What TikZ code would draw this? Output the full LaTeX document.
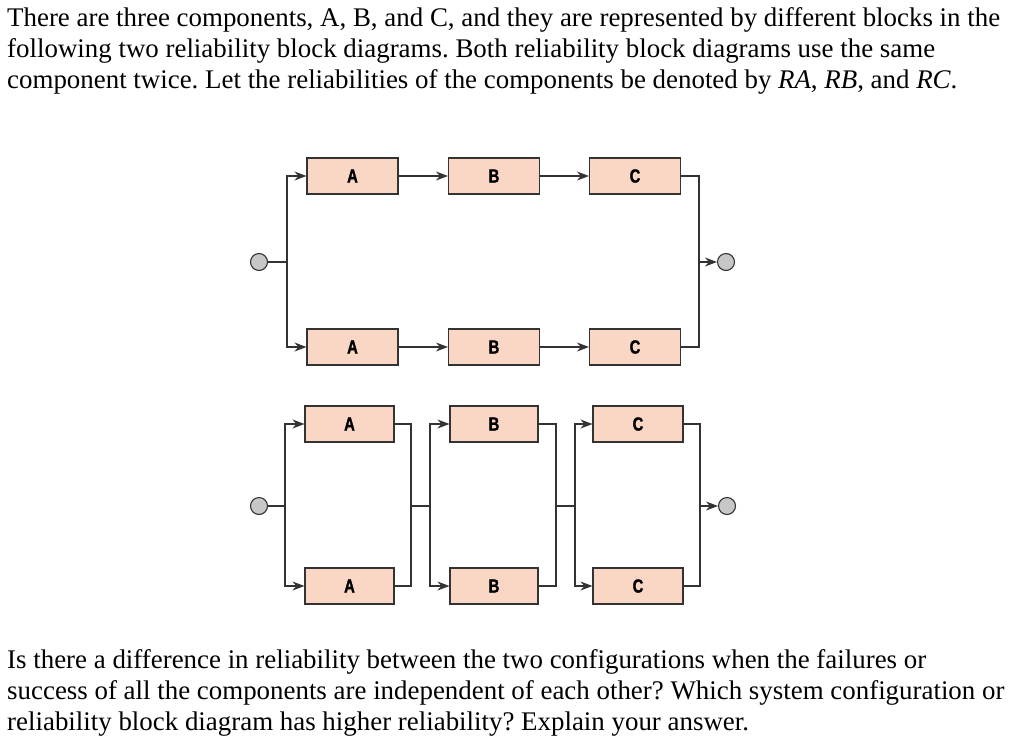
\documentclass[tikz,border=0pt]{standalone}
\usepackage{fontspec}
\setmainfont{Liberation Serif}
\newfontfamily\blkfont[FakeStretch=0.78,FakeBold=1.5]{Liberation Sans Bold}
\usetikzlibrary{arrows.meta}
\frenchspacing
\begin{document}
\begin{tikzpicture}[x=1pt,y=-1pt,
  blk/.style={draw=black!80,fill={rgb,255:red,249;green,215;blue,196},line width=1.1pt,minimum width=91pt,minimum height=36pt,inner sep=0pt,font=\blkfont\fontsize{19}{19}\selectfont},
  term/.style={circle,draw=black!80,fill=black!22,line width=1.1pt,minimum size=17pt,inner sep=0pt},
  ln/.style={draw=black!80,line width=1.1pt},
  ar/.style={ln,-{Stealth[length=12pt,width=9pt]}},
  txt/.style={anchor=base west,inner sep=0pt,font=\fontsize{26.9}{31}\selectfont}]
\useasboundingbox (0,0) rectangle (1024,753);
\node[txt] (t1) at (7,26) {There are three components, A, B, and C, and they are represented by different blocks in the};
\node[txt] (t2) at (7,57) {following two reliability block diagrams. Both reliability block diagrams use the same};
\node[txt] (t3) at (7,88) {component twice. Let the reliabilities of the components be denoted by \textit{RA}, \textit{RB}, and \textit{RC}.};
\node[txt] (b1) at (7,668) {Is there a difference in reliability between the two configurations when the failures or};
\node[txt] (b2) at (7,699) {success of all the components are independent of each other? Which system configuration or};
\node[txt] (b3) at (7,730) {reliability block diagram has higher reliability? Explain your answer.};
% diagram 1
\node[blk] (a1) at (352.5,176) {A};
\node[blk] (b1n) at (494,176) {B};
\node[blk] (c1) at (635,176) {C};
\node[blk] (a2) at (352.5,347) {A};
\node[blk] (b2n) at (494,347) {B};
\node[blk] (c2) at (635,347) {C};
\node[term] (s1) at (259,262) {};
\node[term] (e1) at (726,262) {};
\coordinate (j1) at (287,262);
\coordinate (k1) at (699,262);
\draw[ln] (s1) -- (j1);
\draw[ar] (j1) |- (a1);
\draw[ar] (j1) |- (a2);
\draw[ar] (a1) -- (b1n); \draw[ar] (b1n) -- (c1);
\draw[ar] (a2) -- (b2n); \draw[ar] (b2n) -- (c2);
\draw[ln] (c1.east) -| (k1) |- (c2.east);
\draw[ar] (k1) -- (e1);
% diagram 2
\node[blk,minimum width=89pt] (pa1) at (349.5,424) {A};
\node[blk,minimum width=89pt] (pa2) at (349.5,586) {A};
\node[blk,minimum width=88pt] (pb1) at (494,424) {B};
\node[blk,minimum width=88pt] (pb2) at (494,586) {B};
\node[blk,minimum width=90pt] (pc1) at (638,424) {C};
\node[blk,minimum width=90pt] (pc2) at (638,586) {C};
\node[term] (s2) at (259,506) {};
\node[term] (e2) at (727,506) {};
\coordinate (j2) at (285,506);
\coordinate (m1) at (411,506);
\coordinate (n1) at (430,506);
\coordinate (m2) at (556,506);
\coordinate (n2) at (575,506);
\coordinate (k2) at (700,506);
\draw[ln] (s2) -- (j2);
\draw[ar] (j2) |- (pa1); \draw[ar] (j2) |- (pa2);
\draw[ln] (pa1.east) -| (m1) |- (pa2.east);
\draw[ln] (m1) -- (n1);
\draw[ar] (n1) |- (pb1); \draw[ar] (n1) |- (pb2);
\draw[ln] (pb1.east) -| (m2) |- (pb2.east);
\draw[ln] (m2) -- (n2);
\draw[ar] (n2) |- (pc1); \draw[ar] (n2) |- (pc2);
\draw[ln] (pc1.east) -| (k2) |- (pc2.east);
\draw[ar] (k2) -- (e2);
\end{tikzpicture}
\end{document}
